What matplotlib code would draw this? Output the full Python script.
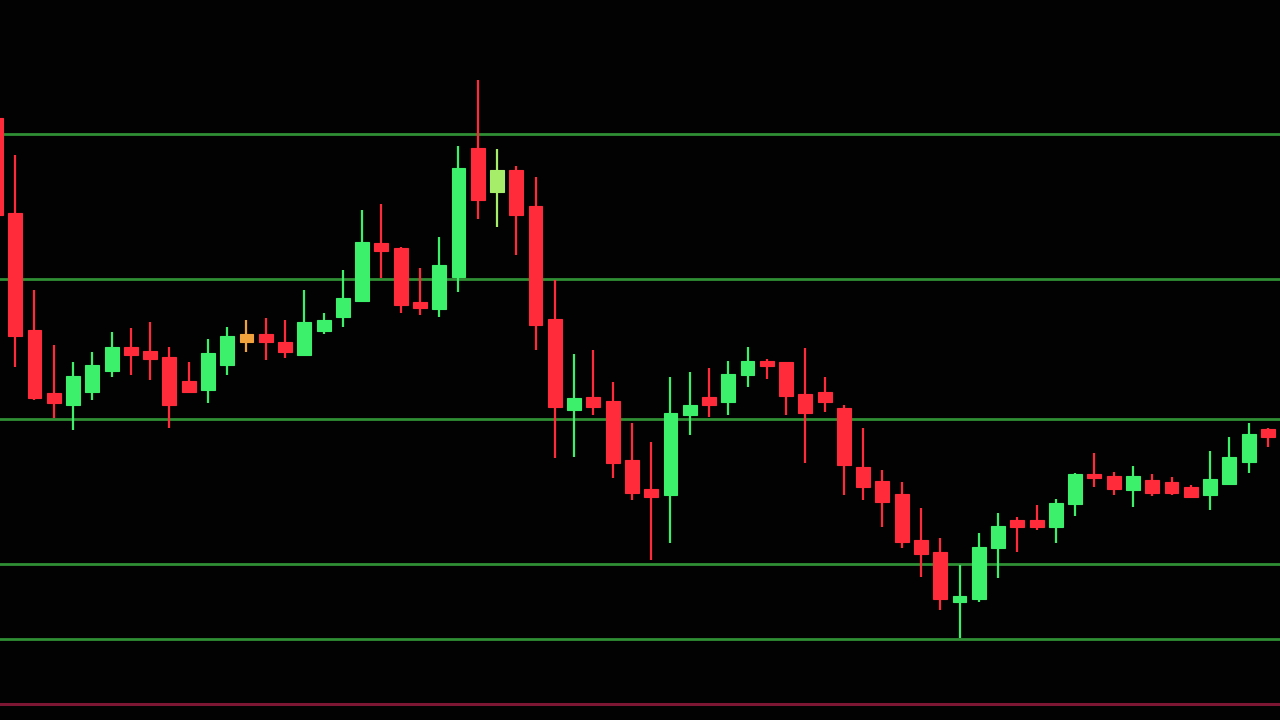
import numpy as np
import matplotlib
matplotlib.use("Agg")
import matplotlib.pyplot as plt

# candle OHLC (price units)
opens  = [602, 507, 390, 327, 315, 328, 349, 373, 369, 363, 339, 330, 355, 386, 386, 378,
          365, 389, 403, 419, 477, 472, 418, 411, 443, 572, 528, 550, 514, 401, 310, 323,
          319, 260, 231, 225, 305, 323, 318, 345, 359, 358, 326, 328, 312, 253, 239, 226,
          180, 168, 118, 121, 172, 200, 200, 193, 216, 246, 244, 230, 240, 238, 233, 225,
          236, 258, 291]
highs  = [608, 565, 430, 375, 358, 368, 388, 392, 398, 373, 358, 381, 393, 400, 402, 400,
          430, 407, 450, 510, 516, 473, 452, 483, 574, 640, 571, 554, 543, 440, 366, 370,
          338, 297, 278, 343, 348, 352, 359, 373, 361, 358, 372, 343, 315, 292, 250, 238,
          212, 182, 155, 187, 207, 203, 215, 221, 247, 267, 248, 254, 246, 243, 235, 269,
          283, 297, 292]
lows   = [495, 353, 320, 302, 290, 320, 343, 345, 340, 292, 327, 317, 345, 368, 360, 362,
          365, 386, 393, 419, 442, 407, 405, 403, 428, 501, 493, 465, 370, 262, 263, 305,
          242, 220, 160, 177, 285, 303, 305, 333, 341, 305, 257, 308, 225, 220, 193, 172,
          143, 110, 82, 118, 142, 168, 190, 177, 204, 233, 225, 213, 224, 225, 222, 210,
          235, 247, 273]
closes = [505, 384, 322, 317, 344, 355, 373, 365, 361, 315, 328, 367, 384, 378, 378, 368,
          398, 400, 422, 478, 469, 415, 412, 455, 552, 520, 550, 505, 395, 313, 322, 313,
          257, 227, 223, 307, 315, 315, 346, 359, 354, 324, 307, 318, 255, 233, 218, 178,
          166, 121, 124, 173, 194, 193, 193, 217, 246, 242, 231, 244, 227, 227, 223, 241,
          263, 286, 283]

levels = [586, 441, 301, 156, 81]   # green horizontal lines
base_level = 16                     # dark red line at the bottom

# a couple of candles look tinted in the picture
tints = {13: "#f2a23c", 26: "#a6ee6a"}

UP = "#3cf06c"
DOWN = "#ff2a3a"

n = len(opens)
x = np.arange(n)

fig = plt.figure(figsize=(12.8, 7.2), dpi=100, facecolor="#020203")
ax = fig.add_axes([0, 0, 1, 1])
ax.set_facecolor("#020203")

for lv in levels:
    ax.axhline(lv, color="#2f8f34", lw=2, zorder=1)
ax.axhline(base_level, color="#7d1633", lw=2.2, zorder=1)

colors = []
for i in range(n):
    c = UP if closes[i] >= opens[i] else DOWN
    colors.append(tints.get(i, c))

ax.vlines(x, lows, highs, colors=colors, lw=1.6, zorder=2)
bottoms = np.minimum(opens, closes)
heights = np.abs(np.array(closes) - np.array(opens))
ax.bar(x, heights, bottom=bottoms, width=0.72, color=colors, edgecolor=colors,
       linewidth=0.8, zorder=3)

ax.set_xlim(0.21, 66.63)
ax.set_ylim(0, 720)
ax.axis("off")

fig.savefig("out.png", dpi=100, facecolor=fig.get_facecolor())
